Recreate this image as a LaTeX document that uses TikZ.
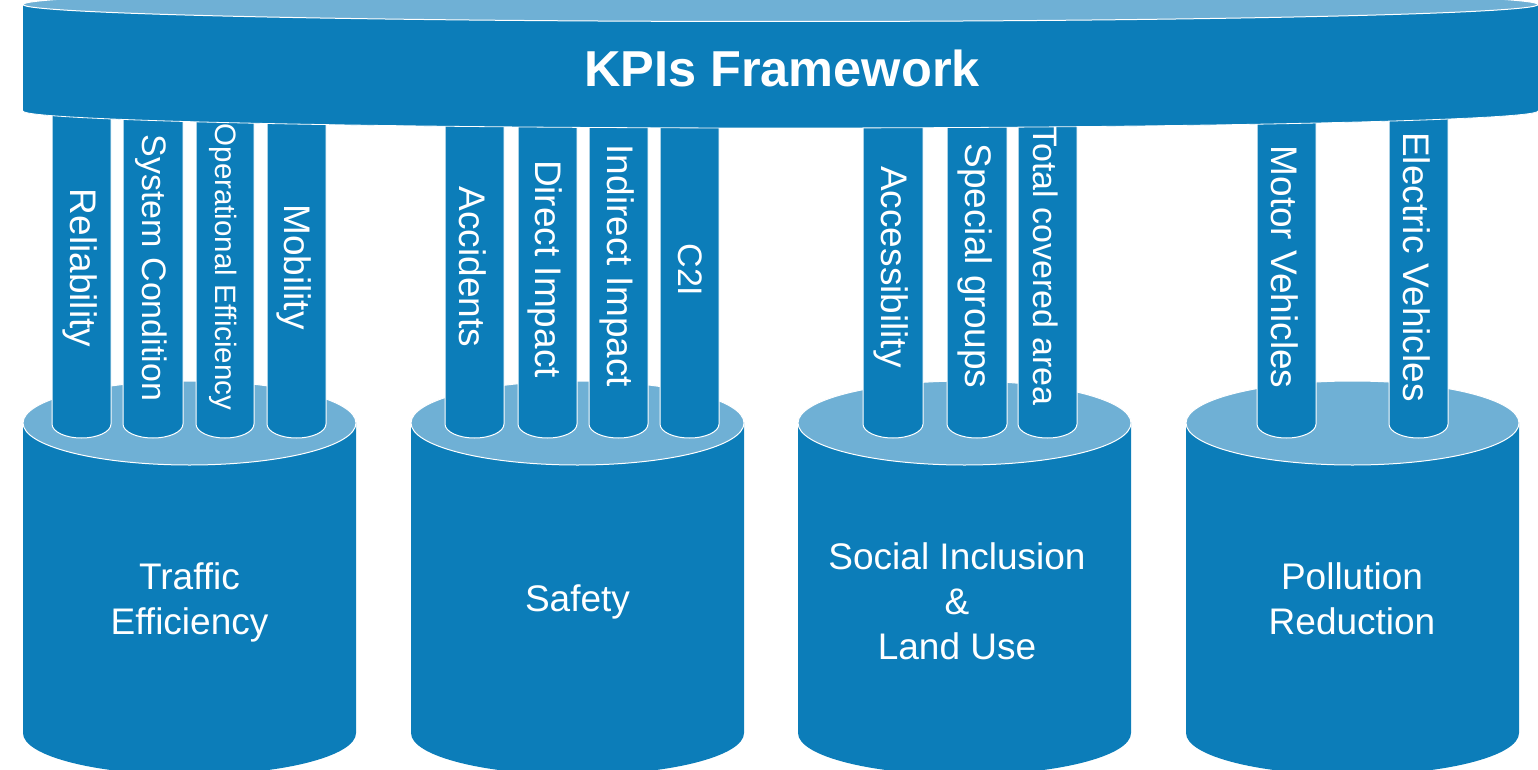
\documentclass[tikz,border=0pt]{standalone}
\usepackage{fontspec}
\setmainfont{Liberation Sans}
\definecolor{kblue}{HTML}{0C7DB9}
\definecolor{klight}{HTML}{6FB0D5}
\newcommand{\drum}[1]{%
  \fill[kblue] (#1,422) -- ++(333,0) -- ++(0,311)
    arc[start angle=0,end angle=180,x radius=166.5,y radius=42] -- cycle;
  \filldraw[topface] (#1+166.5,423) ellipse[x radius=166.5,y radius=42];
}
\newcommand{\pillar}[2]{%
  \filldraw[pillarface] (#1,100) -- (#1,424)
    arc[start angle=180,end angle=0,x radius=(#2-#1)/2,y radius=14]
    -- (#2,100) -- cycle;
}
\tikzset{
  topface/.style={fill=klight,draw=white,line width=1pt},
  pillarface/.style={fill=kblue,draw=white,line width=1pt},
  pillartext/.style={text=white,font=\fontsize{37}{37}\selectfont,rotate=-90,inner sep=0pt},
  midtext/.style={pillartext,font=\fontsize{34}{34}\selectfont},
  smalltext/.style={pillartext,font=\fontsize{29.5}{29.5}\selectfont},
  drumtext/.style={text=white,font=\fontsize{37}{45}\selectfont,align=center,inner sep=0pt},
  titletext/.style={text=white,font=\fontsize{50.5}{50.5}\selectfont\bfseries,inner sep=0pt}
}
\begin{document}
\begin{tikzpicture}[x=1pt,y=-1pt]
\useasboundingbox (0,0) rectangle (1538,770);
\clip (0,0) rectangle (1538,770);
\drum{23}\drum{411}\drum{798}\drum{1186}
\pillar{52}{111}\pillar{123}{183}\pillar{196}{254}\pillar{267}{326}
\pillar{445}{504}\pillar{518}{577}\pillar{589}{648}\pillar{660}{719}
\pillar{863}{923}\pillar{947}{1007}\pillar{1018}{1077}
\pillar{1257}{1316}\pillar{1389}{1448}
% top disk
\fill[kblue] (23,5) -- (23,111) arc[start angle=180,end angle=0,x radius=757.5,y radius=17]
  -- (1538,5) -- cycle;
\draw[white,line width=0.8pt] (23,111) arc[start angle=180,end angle=0,x radius=757.5,y radius=17];
\filldraw[topface] (780.5,4.5) ellipse[x radius=757.5,y radius=17];
\node[titletext] (title) at (782,68) {KPIs Framework};
\node[pillartext] (p1) at (80,268) {Reliability};
\node[midtext] (p2) at (151,268) {System Condition};
\node[smalltext] (p3) at (223,267) {Operational Efficiency};
\node[pillartext] (p4) at (294,267) {Mobility};
\node[pillartext] (p5) at (473,267) {Accidents};
\node[pillartext] (p6) at (545,269) {Direct Impact};
\node[pillartext] (p7) at (617,266) {Indirect Impact};
\node[midtext] (p8) at (690,270) {C2I};
\node[pillartext] (p9) at (891,267) {Accessibility};
\node[pillartext] (p10) at (975,266) {Special groups};
\node[midtext] (p11) at (1046,266) {Total covered area};
\node[pillartext] (p12) at (1285,267) {Motor Vehicles};
\node[pillartext] (p13) at (1417,267) {Electric Vehicles};
\node[drumtext] (d1) at (189.5,602) {Traffic\\Efficiency};
\node[drumtext] (d2) at (577.5,602) {Safety};
\node[drumtext] (d3) at (957,601) {Social Inclusion\\\&\\Land Use};
\node[drumtext] (d4) at (1352,599) {Pollution\\Reduction};
\end{tikzpicture}
\end{document}
